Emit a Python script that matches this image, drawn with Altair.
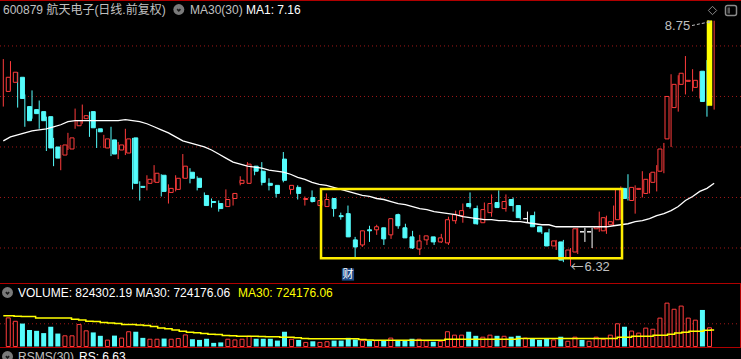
import altair as alt
import pandas as pd

# ---------------- data ----------------
OPEN = [8.05,8.14,8.19,7.90,7.87,7.85,7.80,7.50,7.42,7.48,
        7.71,7.78,7.85,7.68,7.49,7.57,7.47,7.44,7.59,7.11,
        7.14,7.15,7.22,7.05,7.08,7.19,7.25,7.19,7.02,6.96,
        6.94,6.91,6.99,7.14,7.14,7.31,7.26,7.14,7.12,7.38,
        7.08,7.10,6.98,7.00,6.92,6.91,6.99,6.82,6.84,6.58,
        6.53,6.68,6.68,6.70,6.63,6.83,6.70,6.61,6.49,6.58,
        6.61,6.56,6.55,6.77,6.82,6.94,6.89,6.75,6.85,6.95,
        6.89,6.98,6.92,6.79,6.82,6.71,6.65,6.52,6.56,6.40,
        6.46,6.66,6.66,6.69,6.67,6.73,6.78,7.09,6.97,7.08,
        7.04,7.15,7.26,7.58,7.89,8.12,8.15,8.09,8.25,7.91]
CLOSE = [8.19,8.24,7.98,7.76,7.83,7.76,7.49,7.39,7.52,7.59,
         7.76,7.81,7.69,7.65,7.58,7.43,7.52,7.58,7.14,7.10,
         7.18,7.24,7.06,7.09,7.19,7.31,7.19,7.10,6.92,6.95,
         6.89,6.98,7.04,7.17,7.33,7.26,7.15,7.12,7.04,7.17,
         7.12,7.04,6.99,6.96,6.97,6.98,6.89,6.81,6.61,6.51,
         6.67,6.67,6.71,6.59,6.79,6.72,6.60,6.50,6.57,6.62,
         6.56,6.60,6.78,6.83,6.87,6.91,6.74,6.88,6.94,6.90,
         6.96,6.92,6.80,6.79,6.71,6.66,6.52,6.57,6.38,6.48,
         6.69,6.66,6.66,6.71,6.80,6.76,7.08,6.99,7.10,7.09,
         7.18,7.25,7.48,8.00,8.12,8.23,8.16,8.16,7.95,8.75]
HIGH = [8.37,8.35,8.24,8.02,8.06,7.96,7.80,7.59,7.52,7.64,
        7.88,7.92,7.85,7.68,7.62,7.70,7.55,7.68,7.59,7.16,
        7.22,7.32,7.23,7.13,7.22,7.43,7.29,7.21,7.05,6.99,
        6.97,7.08,7.04,7.21,7.35,7.31,7.35,7.19,7.12,7.45,
        7.12,7.12,7.01,7.07,6.97,7.04,6.99,6.85,6.92,6.61,
        6.67,6.72,6.73,6.70,6.79,6.84,6.74,6.67,6.63,6.62,
        6.61,6.64,6.81,6.87,6.94,7.05,6.92,6.95,7.03,7.07,
        7.03,7.00,6.92,6.86,6.86,6.71,6.69,6.58,6.58,6.50,
        6.70,6.70,6.70,6.86,6.82,6.92,7.11,7.23,7.12,7.26,
        7.24,7.32,7.54,8.22,8.21,8.40,8.27,8.25,8.36,8.75]
LOW = [7.90,8.06,7.89,7.70,7.78,7.68,7.46,7.31,7.27,7.47,
       7.68,7.73,7.60,7.49,7.49,7.41,7.38,7.42,7.08,6.97,
       7.07,7.15,7.01,6.94,7.06,7.19,7.14,7.07,6.92,6.90,
       6.86,6.91,6.92,7.12,7.14,7.22,7.12,7.07,7.00,7.15,
       7.03,6.98,6.92,6.95,6.92,6.91,6.81,6.78,6.61,6.40,
       6.51,6.56,6.63,6.53,6.59,6.69,6.60,6.49,6.43,6.53,
       6.53,6.55,6.53,6.74,6.75,6.89,6.73,6.75,6.81,6.90,
       6.86,6.86,6.78,6.75,6.71,6.64,6.52,6.48,6.36,6.32,
       6.44,6.56,6.50,6.66,6.64,6.72,6.78,6.97,6.84,7.00,
       7.04,7.06,7.24,7.50,7.85,8.02,8.05,7.98,7.80,7.87]
MA30 = [7.56,7.60,7.62,7.64,7.66,7.67,7.68,7.70,7.72,7.75,
        7.76,7.76,7.76,7.76,7.76,7.76,7.76,7.77,7.76,7.75,
        7.73,7.70,7.67,7.64,7.60,7.56,7.54,7.52,7.50,7.47,
        7.43,7.39,7.35,7.33,7.31,7.30,7.29,7.27,7.26,7.25,
        7.23,7.20,7.18,7.15,7.13,7.12,7.10,7.08,7.06,7.04,
        7.02,7.01,6.99,6.98,6.96,6.94,6.93,6.91,6.89,6.88,
        6.86,6.85,6.84,6.83,6.81,6.80,6.79,6.78,6.78,6.77,
        6.77,6.76,6.76,6.75,6.74,6.73,6.73,6.71,6.71,6.71,
        6.71,6.71,6.71,6.71,6.71,6.72,6.73,6.74,6.76,6.77,
        6.79,6.82,6.84,6.87,6.91,6.97,7.01,7.06,7.09,7.14]
VOLUME = [1.26,1.11,1.01,0.73,0.69,0.59,0.87,0.57,0.47,0.47,
          0.97,0.69,0.62,0.47,0.28,0.48,0.37,0.65,0.65,0.38,
          0.32,0.32,0.35,0.32,0.35,0.51,0.32,0.29,0.34,0.16,
          0.18,0.32,0.29,0.32,0.45,0.34,0.34,0.34,0.26,0.65,
          0.32,0.29,0.18,0.23,0.18,0.21,0.26,0.26,0.38,0.31,
          0.26,0.26,0.26,0.26,0.37,0.26,0.26,0.34,0.32,0.25,
          0.21,0.23,0.65,0.50,0.50,0.65,0.47,0.41,0.50,0.47,
          0.45,0.43,0.47,0.37,0.37,0.29,0.37,0.29,0.43,0.23,
          0.41,0.29,0.23,0.41,0.32,0.50,1.00,0.87,0.68,0.59,
          0.81,0.76,1.25,1.91,1.64,1.78,1.25,1.16,1.61,0.824]  # millions
VOL_MA30 = [1.35,1.35,1.33,1.32,1.32,1.25,1.25,1.25,1.25,1.25,
            1.20,1.17,1.11,1.10,1.06,1.03,1.01,0.97,0.97,0.95,
            0.92,0.88,0.82,0.78,0.73,0.67,0.63,0.60,0.57,0.54,
            0.53,0.48,0.47,0.45,0.45,0.45,0.44,0.43,0.43,0.41,
            0.41,0.38,0.35,0.34,0.34,0.34,0.34,0.34,0.34,0.34,
            0.31,0.29,0.28,0.28,0.28,0.28,0.28,0.28,0.28,0.28,
            0.28,0.28,0.32,0.32,0.32,0.32,0.32,0.32,0.32,0.32,
            0.32,0.32,0.35,0.35,0.35,0.35,0.35,0.35,0.35,0.35,
            0.35,0.35,0.35,0.35,0.35,0.35,0.41,0.41,0.45,0.45,
            0.45,0.50,0.50,0.54,0.59,0.63,0.67,0.67,0.72,0.724]
# volume bar colours: r = red hollow, c = cyan filled
VOL_DIR = ("rrccccccrrrrccrcrrccrrcrrrcccccrrrrcccccrcrcrrccccrcrcrcccrrcrrrrccrrcrccrcccrcrrcrrrrrcrrrrrrrrrrcr")

PRICE_GRID = [8.5, 8.0, 7.5, 7.0, 6.5]
VOL_GRID = [1.0]
BOX = {"i0": [45.25], "i1": [87.17], "p0": [7.084], "p1": [6.398]}
HIGH_MARK = {"i": [100], "p": [8.75]}
LOW_MARK = {"i": [80], "p": [6.32]}
FIN_MARK = {"i": [49]}

# ---------------- styling ----------------
RED = "#ff3c3c"
CYAN = "#54fcfc"
YELLOW = "#ffff00"
BOXY = "#ffee00"
GRID = "#a01818"
BORDER = "#b00000"
GRAY = "#c0c0c0"
FONT = "Liberation Sans, Noto Sans CJK SC"
W, H = 741, 359
IDX_DOM = [0.54, 103.74]
PRICE_DOM = [5.401, 8.955]
VOL_DOM = [-0.551, 15.264]

n = len(OPEN)
idx = list(range(1, n + 1))


def kind(k):
    if k == n - 1:
        return "y"
    if CLOSE[k] > OPEN[k]:
        return "u"
    if CLOSE[k] < OPEN[k]:
        return "d"
    return "f"


candles = pd.DataFrame({"i": idx, "o": OPEN, "c": CLOSE, "h": HIGH, "l": LOW,
                        "k": [kind(k) for k in range(n)], "ma": MA30})
vol = pd.DataFrame({"i": idx, "v": VOLUME, "vm": VOL_MA30, "d": list(VOL_DIR[:n])})

xs = alt.Scale(domain=IDX_DOM, nice=False, zero=False)
ps = alt.Scale(domain=PRICE_DOM, nice=False, zero=False)
vs = alt.Scale(domain=VOL_DOM, nice=False, zero=False)


def X(f="i"):
    return alt.X(f"{f}:Q", scale=xs, axis=None)


def PY(f):
    return alt.Y(f"{f}:Q", scale=ps, axis=None)


def VY(f):
    return alt.Y(f"{f}:Q", scale=vs, axis=None)


DUMMY = pd.DataFrame({"a": [0]})


def label(txt, x, y, color, size=12, align="left", font=FONT, weight="normal"):
    return alt.Chart(DUMMY).mark_text(text=txt, align=align, baseline="middle", color=color,
                                      fontSize=size, font=font, fontWeight=weight).encode(
        x=alt.value(x), y=alt.value(y))


def hline(y, x0=0, x1=W, color=BORDER, w=1):
    return alt.Chart(DUMMY).mark_rule(color=color, strokeWidth=w).encode(
        x=alt.value(x0), x2=alt.value(x1), y=alt.value(y))


layers = []

# grids
layers.append(alt.Chart(pd.DataFrame({"p": PRICE_GRID})).mark_rule(
    color=GRID, strokeDash=[1, 3], strokeWidth=1).encode(y=PY("p")))
layers.append(alt.Chart(pd.DataFrame({"v": VOL_GRID})).mark_rule(
    color=GRID, strokeDash=[1, 3], strokeWidth=1).encode(y=VY("v")))

# borders / separators
layers.append(hline(0.5))
layers.append(hline(283.5))
layers.append(hline(347.5))
layers.append(alt.Chart(DUMMY).mark_rule(color=BORDER, strokeWidth=1).encode(
    x=alt.value(740.5), y=alt.value(283.5), y2=alt.value(347.5)))

# wicks
wick_color = alt.Color("k:N", scale=alt.Scale(domain=["u", "d", "f", "y"],
                                               range=[RED, CYAN, "#ffffff", RED]), legend=None)
layers.append(alt.Chart(candles).mark_rule(strokeWidth=1).encode(
    x=X(), y=PY("l"), y2="h", color=wick_color))

# bodies
layers.append(alt.Chart(candles).transform_filter("datum.k == 'u'").mark_bar(
    size=4, fill="#000000", stroke=RED, strokeWidth=1).encode(x=X(), y=PY("o"), y2="c"))
layers.append(alt.Chart(candles).transform_filter("datum.k == 'd'").mark_bar(
    size=4, fill=CYAN, stroke=CYAN, strokeWidth=1).encode(x=X(), y=PY("o"), y2="c"))
layers.append(alt.Chart(candles).transform_filter("datum.k == 'f'").mark_bar(
    size=4, fill="#ffffff", stroke="#ffffff", strokeWidth=1).encode(x=X(), y=PY("o"), y2="c"))
layers.append(alt.Chart(candles).transform_filter("datum.k == 'y'").mark_bar(
    size=5, fill=YELLOW, stroke=YELLOW, strokeWidth=0.5).encode(x=X(), y=PY("o"), y2="c"))

# MA30
layers.append(alt.Chart(candles).mark_line(color="#ffffff", strokeWidth=1.3).encode(
    x=X(), y=PY("ma")))

# highlight box
layers.append(alt.Chart(pd.DataFrame(BOX)).mark_rect(
    fillOpacity=0, stroke=BOXY, strokeWidth=2.5).encode(
    x=X("i0"), x2="i1", y=PY("p0"), y2="p1"))

# high / low annotations
layers.append(alt.Chart(pd.DataFrame(HIGH_MARK)).mark_text(
    text="8.75", align="right", baseline="middle", dx=-24, dy=5, color=GRAY,
    fontSize=13, font=FONT).encode(x=X(), y=PY("p")))
layers.append(alt.Chart(DUMMY).mark_rule(color=GRAY, strokeWidth=1, strokeDash=[3, 2]).encode(
    x=alt.value(692), x2=alt.value(709), y=alt.value(25.5), y2=alt.value(22)))
layers.append(alt.Chart(DUMMY).mark_point(shape="triangle-right", filled=True, color=GRAY,
                                          size=14, opacity=1).encode(
    x=alt.value(709.5), y=alt.value(22)))
layers.append(alt.Chart(pd.DataFrame(LOW_MARK)).mark_text(
    text="←", align="left", baseline="middle", dx=0, dy=1, color=GRAY,
    fontSize=13, font="Noto Sans CJK SC").encode(x=X(), y=PY("p")))
layers.append(alt.Chart(pd.DataFrame(LOW_MARK)).mark_text(
    text="6.32", align="left", baseline="middle", dx=14, dy=1, color=GRAY,
    fontSize=13, font=FONT).encode(x=X(), y=PY("p")))

# 财 marker
layers.append(alt.Chart(pd.DataFrame(FIN_MARK)).mark_square(
    size=150, color="#1e4a86", opacity=1).encode(x=X(), y=alt.value(274.5)))
layers.append(alt.Chart(pd.DataFrame(FIN_MARK)).mark_text(
    text="财", color="#ffffff", fontSize=11, font="Noto Sans CJK SC", baseline="middle").encode(
    x=X(), y=alt.value(274.5)))

# volume bars
layers.append(alt.Chart(vol).transform_filter("datum.d == 'r'").mark_bar(
    size=4, fill="#000000", stroke=RED, strokeWidth=1).encode(
    x=X(), y=VY("v"), y2=alt.datum(0)))
layers.append(alt.Chart(vol).transform_filter("datum.d == 'c'").mark_bar(
    size=5, fill=CYAN, strokeWidth=0).encode(
    x=X(), y=VY("v"), y2=alt.datum(0)))
layers.append(alt.Chart(vol).mark_line(color=YELLOW, strokeWidth=1.5, interpolate="step").encode(
    x=X(), y=VY("vm")))

# header texts and icons
def chevron_icon(cx, cy):
    return [
        alt.Chart(DUMMY).mark_point(shape="circle", filled=True, color="#7a7a7a", size=120,
                                    opacity=1).encode(x=alt.value(cx), y=alt.value(cy)),
        alt.Chart(DUMMY).mark_point(shape="M-0.6,-0.3L0,0.3L0.6,-0.3", filled=False,
                                    color="#1a1a1a", size=30, strokeWidth=1.6, opacity=1).encode(
            x=alt.value(cx), y=alt.value(cy + 0.5)),
    ]


layers.append(label("600879 航天电子(日线.前复权)", 3, 9.5, GRAY))
layers += chevron_icon(178.8, 9.5)
layers.append(label("MA30(30)", 190, 9.5, GRAY))
layers.append(label("MA1: 7.16", 246, 9.5, "#ffffff"))

layers.append(alt.Chart(DUMMY).mark_point(shape="diamond", filled=False, color="#8a8a8a",
                                          size=70, strokeWidth=1, opacity=1).encode(
    x=alt.value(712.5), y=alt.value(10.5)))
layers.append(alt.Chart(DUMMY).mark_rect(fillOpacity=0, stroke="#8a8a8a", strokeWidth=1.5,
                                         cornerRadius=2).encode(
    x=alt.value(725.5), x2=alt.value(736.5), y=alt.value(5.5), y2=alt.value(15.5)))
layers.append(alt.Chart(DUMMY).mark_rect(color="#5a5a5a").encode(
    x=alt.value(727.5), x2=alt.value(730), y=alt.value(7.5), y2=alt.value(13.5)))

layers += chevron_icon(7.5, 292.5)
layers.append(label("VOLUME: 824302.19 MA30: 724176.06", 18, 292.5, "#ffffff"))
layers.append(label("MA30: 724176.06", 238, 292.5, YELLOW))

layers += chevron_icon(7.5, 356.5)
layers.append(label("RSMS(30)", 18, 356.5, GRAY))
layers.append(label("RS: 6.63", 79, 356.5, "#ffffff"))

chart = alt.layer(*layers).resolve_scale(
    x="independent", y="independent", color="independent"
).properties(
    width=W, height=H, background="#000000", padding=0,
    autosize=alt.AutoSizeParams(type="none"),
).configure_view(stroke=None)

chart.save("out.html", embed_options={"renderer": "svg", "actions": False})
